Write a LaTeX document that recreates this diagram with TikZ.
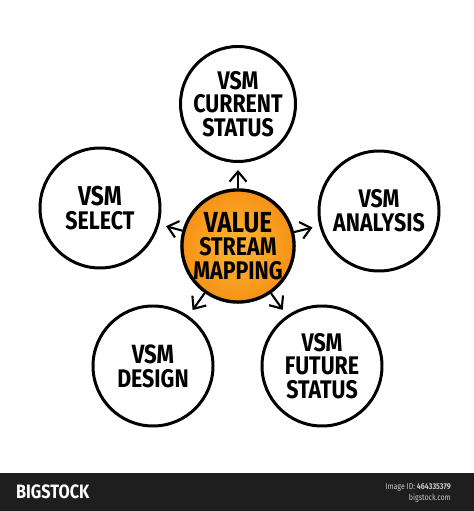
\documentclass[tikz,border=0pt]{standalone}
\usepackage{fontspec}
\setsansfont{Fira Sans}[FakeStretch=0.84]
\usetikzlibrary{arrows.meta}
\definecolor{colO}{RGB}{246,146,22}
\definecolor{colOl}{RGB}{252,182,52}
\definecolor{colBar}{RGB}{30,30,30}
\definecolor{colId}{RGB}{200,200,200}
\tikzstyle{topic}=[circle, draw, line width=1.7pt, minimum size=2.4cm, inner sep=0pt, align=center, font=\sffamily\bfseries\fontsize{14.5}{13.5}\selectfont]
\tikzstyle{hub}=[topic, minimum size=2.2cm, line width=1.9pt, shading=radial, inner color=colOl, outer color=colO]
\tikzstyle{link}=[line width=1.2pt, -{Straight Barb[length=2mm,width=3.4mm]}, shorten >=4pt]

\begin{document}
\begin{tikzpicture}
			\useasboundingbox (0,0) rectangle (9.48,10.22);
			\node[hub] (vsm) at (4.76, 5.30) {{\fontsize{16.5}{15}\selectfont VALUE}\\STREAM\\MAPPING};
			\node[topic, minimum size=2.3cm] (current) at (4.76, 8.14) {VSM\\CURRENT\\STATUS};
			\node[topic] (select) at (2.00, 6.06) {\fontsize{15.5}{15}\selectfont VSM\\SELECT};
			\node[topic] (analysis) at (7.58, 6.00) {VSM\\ANALYSIS};
			\node[topic] (design) at (3.06, 2.90) {\fontsize{15}{15}\selectfont VSM\\DESIGN};
			\node[topic] (future) at (6.44, 2.90) {VSM\\FUTURE\\STATUS};
			\draw[link] (vsm)edge(current) (vsm)edge(select) (vsm)edge(analysis) (vsm)edge(design) (vsm)edge(future)  ;
			% footer bar
			\fill[colBar] (0,0) rectangle (9.48,0.76);
			\node[white, font=\sffamily\bfseries\fontsize{11}{11}\selectfont, anchor=west] (brand) at (0.2, 0.38) {BIGSTOCK};
			\node[colId, font=\sffamily\fontsize{4.8}{5}\selectfont, anchor=east] (imgid) at (9.14, 0.47) {Image ID: \textbf{464335379}};
			\node[colId, font=\sffamily\fontsize{4.8}{5}\selectfont, anchor=east] (site) at (9.14, 0.26) {bigstock.com};
		\end{tikzpicture}
\end{document}
